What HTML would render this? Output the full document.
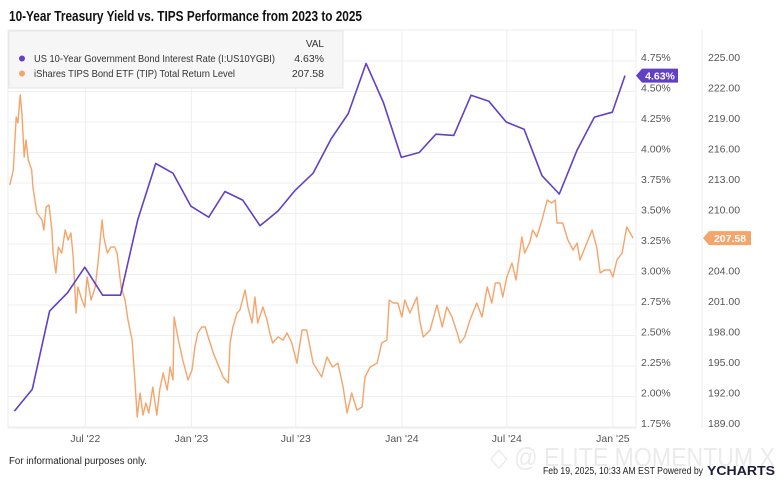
<!DOCTYPE html>
<html><head><meta charset="utf-8"><style>
body{margin:0;background:#fff;font-family:"Liberation Sans",sans-serif}
#wrap{position:relative;width:778px;height:482px;overflow:hidden;background:#fff}
svg text{font-family:"Liberation Sans",sans-serif}
</style></head><body>
<div id="wrap">
<svg id="chart" width="778" height="482"></svg>
</div>
<script>
const rateDays=[58,89,119,150,180,211,242,272,303,333,364,395,423,454,484,515,545,576,607,637,668,698,729,760,789,820,850,881,911,942,973,1003,1034,1064,1095,1117];
const rateVals=[1.88,2.06,2.70,2.85,3.06,2.83,2.83,3.45,3.91,3.83,3.56,3.47,3.68,3.61,3.40,3.52,3.69,3.83,4.11,4.32,4.73,4.41,3.96,4.00,4.15,4.14,4.47,4.42,4.25,4.19,3.81,3.66,4.02,4.29,4.33,4.63];
const tipDays=[50,56,61,64,68,71,75,78,82,88,90,97,106,109,113,118,123,125,130,134,140,146,151,156,160,165,168,175,180,184,191,198,203,210,213,219,225,232,236,243,250,255,262,267,271,276,281,286,291,298,305,310,316,323,328,333,335,340,345,350,359,366,371,376,383,389,394,403,415,420,429,432,437,444,449,458,463,470,475,480,489,496,501,506,515,524,531,539,548,557,565,576,591,600,610,619,628,635,643,652,661,666,675,687,695,704,708,715,723,730,735,744,756,761,767,779,791,800,808,817,826,831,839,848,860,869,878,886,892,900,905,912,921,928,938,943,952,957,964,973,982,990,996,999,1009,1018,1027,1034,1039,1048,1060,1068,1074,1082,1091,1096,1103,1112,1120,1126,1131];
const tipVals=[212.80,214.28,219.49,218.90,221.66,219.89,215.56,217.23,215.26,214.28,212.61,210.05,209.36,208.38,210.64,210.84,208.38,206.11,204.15,206.70,206.11,208.38,207.39,208.08,205.72,200.21,202.77,201.49,200.80,203.75,201.49,202.77,205.13,209.36,207.69,206.11,206.70,206.70,206.11,202.77,201.49,199.52,197.56,193.62,189.98,192.34,190.18,191.36,190.38,192.93,190.18,192.64,194.31,192.64,194.90,193.62,199.82,198.25,196.87,195.59,193.62,194.61,196.87,198.25,198.84,198.84,197.85,196.28,194.61,193.92,193.33,197.26,198.84,200.21,200.51,202.48,200.80,199.23,201.79,199.23,200.80,199.52,198.25,197.26,197.85,197.56,198.25,197.26,195.29,198.54,198.54,195.29,193.92,195.89,194.90,195.29,192.93,190.38,192.34,190.67,190.97,193.92,194.90,195.29,197.26,197.56,201.49,201.20,201.20,199.82,201.49,200.21,201.79,199.52,197.85,198.54,201.00,198.84,200.80,199.82,198.25,197.26,197.85,199.52,201.20,199.82,202.77,201.20,203.16,203.16,201.79,203.75,205.13,203.46,207.69,206.11,207.20,208.38,207.69,209.36,211.33,211.03,211.33,209.07,209.07,207.39,206.41,207.10,205.43,206.70,208.38,206.70,204.15,204.44,204.44,203.75,205.43,206.11,208.67,208.08,207.58];
const leftTicks=["4.75%","4.50%","4.25%","4.00%","3.75%","3.50%","3.25%","3.00%","2.75%","2.50%","2.25%","2.00%","1.75%"];
const leftTickVals=[4.75,4.5,4.25,4.0,3.75,3.5,3.25,3.0,2.75,2.5,2.25,2.0,1.75];
const rightTickVals=[225,222,219,216,213,210,207,204,201,198,195,192,189];
const xTickLabels=["Jul '22","Jan '23","Jul '23","Jan '24","Jul '24","Jan '25"];
const xTickDays=[181,365,546,730,912,1096];

const NS="http://www.w3.org/2000/svg";
const svg=document.getElementById('chart');
function mk(tag,attrs,parent){const e=document.createElementNS(NS,tag);for(const k in attrs)e.setAttribute(k,attrs[k]);(parent||svg).appendChild(e);return e;}
const X=d=>-19+d/1.7345;
const YL=v=>61+(4.75-v)*122;
const YR=v=>61+(225-v)*10.167;
const PL=8,PR=636,PT=30,PB=428;

let t=mk('text',{x:9,y:21,'font-size':14.5,'font-weight':'bold',fill:'#111',textLength:353,lengthAdjust:'spacingAndGlyphs'});


t.textContent='10-Year Treasury Yield vs. TIPS Performance from 2023 to 2025';

let frame=mk('rect',{x:PL,y:PT,width:PR-PL,height:PB-PT,fill:'none',stroke:'#ececec'});


let sep=mk('line',{x1:702,x2:702,y1:PT,y2:PB,stroke:'#eee'});



leftTickVals.forEach((v,i)=>{
  const y=YL(v);
  const g=mk('line',{x1:PL,x2:PR,y1:y,y2:y,stroke:'#efefef'});
  
  
  const l=mk('text',{x:641,y:y,'font-size':10.5,fill:'#555'});
  
  
  l.textContent=leftTicks[i];
});
rightTickVals.forEach(v=>{
  const r=mk('text',{x:708,y:YR(v),'font-size':10.5,fill:'#555'});
  
  
  r.textContent=v.toFixed(2);
});
xTickDays.forEach((d,i)=>{
  const x=X(d);
  const g=mk('line',{x1:x,x2:x,y1:PT,y2:PB,stroke:'#efefef'});
  
  
  const l=mk('text',{x:x,y:442,'font-size':10.5,fill:'#555','text-anchor':'middle'});
  
  
  l.textContent=xTickLabels[i];
});

let wm=mk('text',{x:490,y:466,'font-size':26,fill:'#ebebeb',textLength:285,lengthAdjust:'spacingAndGlyphs'});


wm.textContent='◇ @ ELITE MOMENTUM X';

const tp=mk('path',{d:tipDays.map((d,i)=>(i?'L':'M')+X(d).toFixed(1)+','+YR(tipVals[i]).toFixed(1)).join(''),fill:'none',stroke:'#f5a46a','stroke-width':1.4,'stroke-linejoin':'round'});


const rp=mk('path',{d:rateDays.map((d,i)=>(i?'L':'M')+X(d).toFixed(1)+','+YL(rateVals[i]).toFixed(1)).join(''),fill:'none',stroke:'#6240c4','stroke-width':1.6,'stroke-linejoin':'round'});



// legend
const lg=mk('g',{});


mk('rect',{x:9,y:31,width:334,height:57,fill:'#f6f6f6',stroke:'#e6e6e6'},lg);
let vh=mk('text',{x:324,y:47,'font-size':10,fill:'#333','text-anchor':'end'},lg);vh.textContent='VAL';
const legItems=[['US 10-Year Government Bond Interest Rate (I:US10YGBI)','4.63%','#6240c4',62,241],['iShares TIPS Bond ETF (TIP) Total Return Level','207.58','#f5a46a',77,201]];
legItems.forEach(it=>{
  const c=mk('circle',{cx:22,cy:it[3]-3.5,r:3,fill:it[2]},lg);
  
  
  const a=mk('text',{x:34,y:it[3],'font-size':10.5,fill:'#333',textLength:it[4],lengthAdjust:'spacingAndGlyphs'},lg);
  
  
  a.textContent=it[0];
  const b=mk('text',{x:324,y:it[3],'font-size':10.5,fill:'#333','text-anchor':'end'},lg);
  
  
  b.textContent=it[1];
});

function badge(x,y,w,color,txt,name){
  const g=mk('g',{});
  
  
  mk('path',{d:`M${x},${y} L${x+6},${y-7} L${x+w},${y-7} L${x+w},${y+7} L${x+6},${y+7} Z`,fill:color},g);
  const tt=mk('text',{x:x+w/2+3,y:y+3.8,'font-size':10.5,'font-weight':'bold',fill:'#fff','text-anchor':'middle'},g);
  tt.textContent=txt;
}
badge(636,YL(rateVals[rateVals.length-1]),42,'#6240c4',rateVals[rateVals.length-1].toFixed(2)+'%','yield-value-badge');
badge(703,YR(tipVals[tipVals.length-1]),48,'#f5a46a',tipVals[tipVals.length-1].toFixed(2),'tip-value-badge');

let f1=mk('text',{x:9,y:464,'font-size':10,fill:'#222',textLength:138,lengthAdjust:'spacingAndGlyphs'});


f1.textContent='For informational purposes only.';
let f2=mk('text',{x:543,y:474,'font-size':10,fill:'#222',textLength:160,lengthAdjust:'spacingAndGlyphs'});


f2.textContent='Feb 19, 2025, 10:33 AM EST Powered by';
let f3=mk('text',{x:707,y:475,'font-size':13,'font-weight':'bold',fill:'#1c1c3c',textLength:68,lengthAdjust:'spacingAndGlyphs'});


f3.textContent='YCHARTS';
</script>
</body></html>
